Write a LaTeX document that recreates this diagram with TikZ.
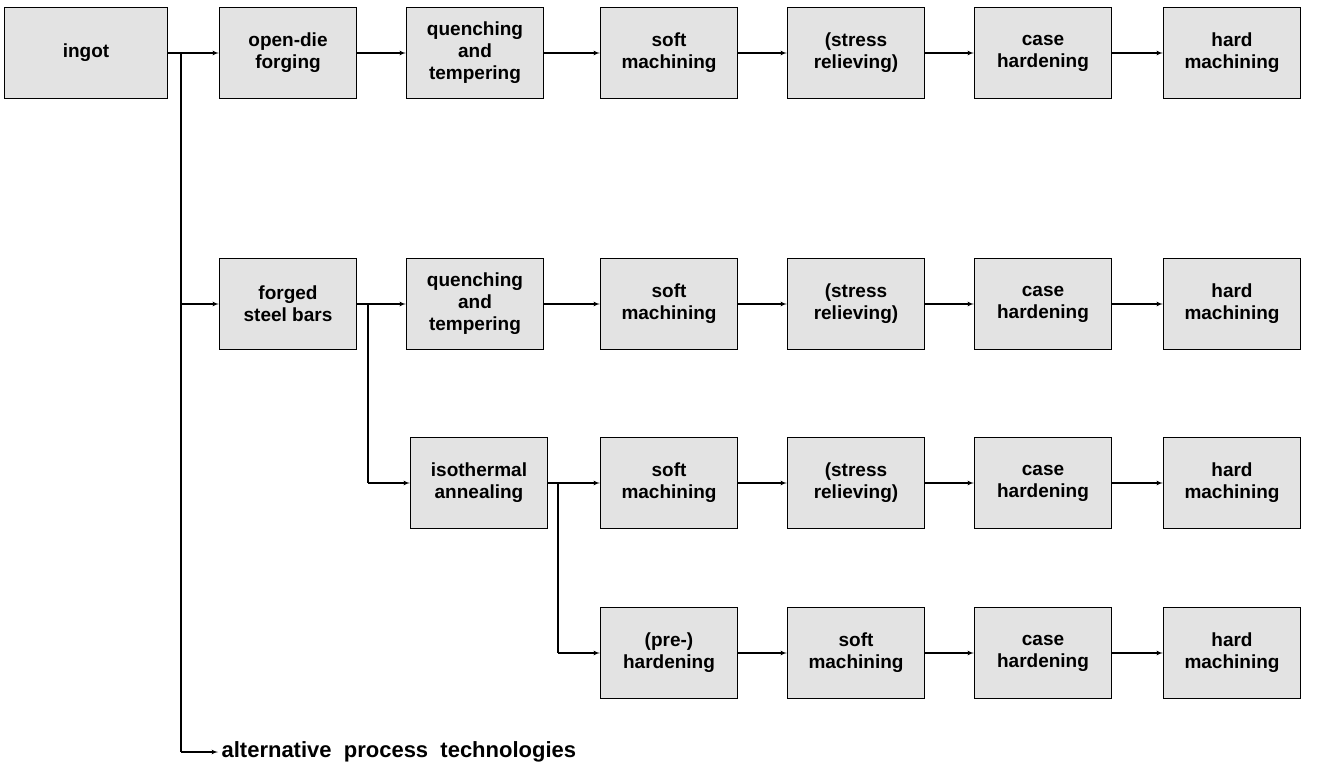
\documentclass[tikz,border=0pt]{standalone}
\usepackage{fontspec}
\setmainfont{Liberation Sans}
\usetikzlibrary{arrows}

\begin{document}
\begin{tikzpicture}[x=1pt, y=-1pt, >=latex', line width=1.2pt,
    stage/.style={draw, fill=gray!22, minimum width=137pt, minimum height=91pt,
      align=center, inner sep=2pt, font=\fontsize{19}{22}\selectfont\bfseries}]
    \useasboundingbox (0,0) rectangle (1344,776);

    % top row
    \node[stage, minimum width=163pt] at (86, 53) (ingot) {ingot};
    \node[stage] at (288, 53) (forge) {open-die\\forging};
    \node[stage] at (475, 53) (qt1) {quenching\\and\\tempering};
    \node[stage] at (669, 53) (soft1) {soft\\machining};
    \node[stage] at (856, 53) (stress1) {(stress\\relieving)};
    \node[stage] at (1043, 53) (case1) {case\\hardening};
    \node[stage] at (1232, 53) (hard1) {hard\\machining};

    % forged bars row
    \node[stage] at (288, 304) (bars) {forged\\steel bars};
    \node[stage] at (475, 304) (qt2) {quenching\\and\\tempering};
    \node[stage] at (669, 304) (soft2) {soft\\machining};
    \node[stage] at (856, 304) (stress2) {(stress\\relieving)};
    \node[stage] at (1043, 304) (case2) {case\\hardening};
    \node[stage] at (1232, 304) (hard2) {hard\\machining};

    % isothermal annealing row
    \node[stage] at (479, 483) (iso) {isothermal\\annealing};
    \node[stage] at (669, 483) (soft3) {soft\\machining};
    \node[stage] at (856, 483) (stress3) {(stress\\relieving)};
    \node[stage] at (1043, 483) (case3) {case\\hardening};
    \node[stage] at (1232, 483) (hard3) {hard\\machining};

    % pre-hardening row
    \node[stage] at (669, 653) (pre) {(pre-)\\hardening};
    \node[stage] at (856, 653) (soft4) {soft\\machining};
    \node[stage] at (1043, 653) (case4) {case\\hardening};
    \node[stage] at (1232, 653) (hard4) {hard\\machining};

    \node[anchor=west, inner sep=3pt, font=\fontsize{22}{26}\selectfont\bfseries]
      at (218, 752) (alt) {alternative\ \ process\ \ technologies};

    % junctions
    \coordinate (j1) at (181, 53);
    \coordinate (j1b) at (181, 304);
    \coordinate (j1c) at (181, 752);
    \coordinate (j2) at (368, 304);
    \coordinate (j2b) at (368, 483);
    \coordinate (j3) at (558, 483);
    \coordinate (j3b) at (558, 653);

    \draw (ingot) -- (j1) -- (j1c);
    \draw[->] (j1) -- (forge);
    \draw[->] (j1b) -- (bars);
    \draw[->] (j1c) -- (alt);
    \draw (bars) -- (j2) -- (j2b);
    \draw[->] (j2) -- (qt2);
    \draw[->] (j2b) -- (iso);
    \draw (iso) -- (j3) -- (j3b);
    \draw[->] (j3) -- (soft3);
    \draw[->] (j3b) -- (pre);

    \draw[->] (forge) -- (qt1);
    \draw[->] (qt1) -- (soft1);
    \draw[->] (soft1) -- (stress1);
    \draw[->] (stress1) -- (case1);
    \draw[->] (case1) -- (hard1);
    \draw[->] (qt2) -- (soft2);
    \draw[->] (soft2) -- (stress2);
    \draw[->] (stress2) -- (case2);
    \draw[->] (case2) -- (hard2);
    \draw[->] (soft3) -- (stress3);
    \draw[->] (stress3) -- (case3);
    \draw[->] (case3) -- (hard3);
    \draw[->] (pre) -- (soft4);
    \draw[->] (soft4) -- (case4);
    \draw[->] (case4) -- (hard4);
\end{tikzpicture}
\end{document}
